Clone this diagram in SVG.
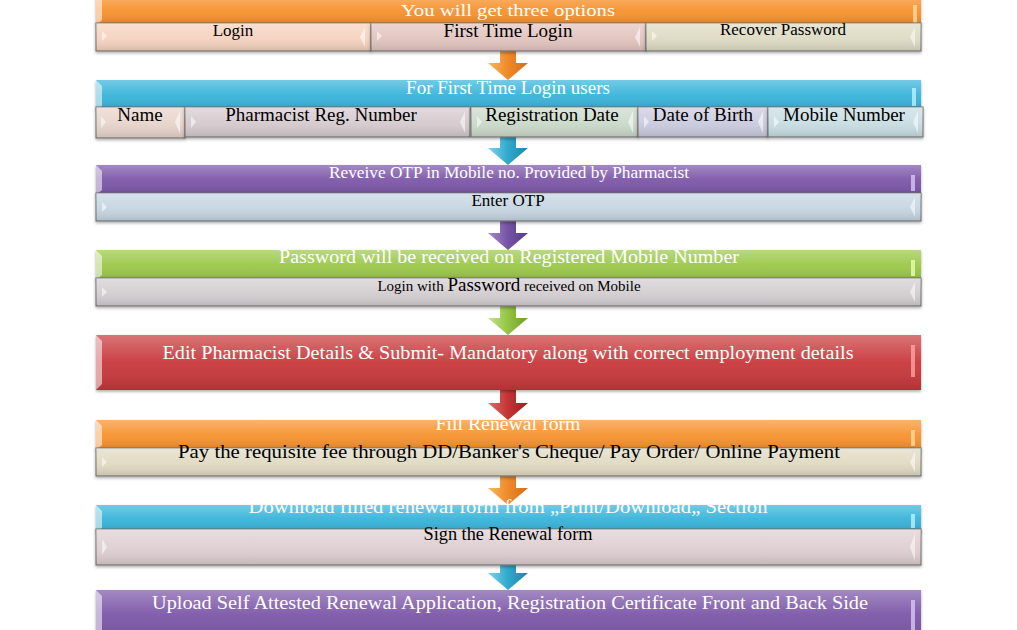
<svg xmlns="http://www.w3.org/2000/svg" width="1017" height="630" viewBox="0 0 1017 630">
<style>
.t{font-family:"Liberation Serif","Times New Roman",serif;text-anchor:middle}
.w{fill:#ffffff}
.k{fill:#000000}
.b{stroke:#6f6f6f;stroke-width:1}
.hl{fill:#ffffff;opacity:0.55}
</style>
<defs>
<linearGradient id="gloss" x1="0" y1="0" x2="0" y2="1">
<stop offset="0" stop-color="#ffffff" stop-opacity="0.3"/>
<stop offset="0.5" stop-color="#ffffff" stop-opacity="0.05"/>
<stop offset="1" stop-color="#000000" stop-opacity="0.12"/>
</linearGradient>
<linearGradient id="agOrange" x1="0" y1="0" x2="1" y2="0"><stop offset="0" stop-color="#f5b85e"/><stop offset="0.5" stop-color="#ef8a2a"/><stop offset="1" stop-color="#d36c17"/></linearGradient>
<linearGradient id="agCyan" x1="0" y1="0" x2="1" y2="0"><stop offset="0" stop-color="#7fd3ea"/><stop offset="0.5" stop-color="#30a9cc"/><stop offset="1" stop-color="#1d86a6"/></linearGradient>
<linearGradient id="agPurple" x1="0" y1="0" x2="1" y2="0"><stop offset="0" stop-color="#a98ad0"/><stop offset="0.5" stop-color="#7552a5"/><stop offset="1" stop-color="#573a86"/></linearGradient>
<linearGradient id="agGreen" x1="0" y1="0" x2="1" y2="0"><stop offset="0" stop-color="#c6e48a"/><stop offset="0.5" stop-color="#93c443"/><stop offset="1" stop-color="#6f9d2b"/></linearGradient>
<linearGradient id="agRed" x1="0" y1="0" x2="1" y2="0"><stop offset="0" stop-color="#e06a6a"/><stop offset="0.5" stop-color="#c43434"/><stop offset="1" stop-color="#9a2020"/></linearGradient>
<filter id="sh" x="-5%" y="-20%" width="110%" height="150%"><feDropShadow dx="0" dy="1.5" stdDeviation="1.5" flood-color="#000" flood-opacity="0.35"/></filter>
</defs>

<g id="connectors">
<path d="M500,49 L516,49 L516,63 L528,63 L508,80 L488,63 L500,63 Z" fill="url(#agOrange)"/>
<path d="M500,136 L516,136 L516,148 L528,148 L508,165 L488,148 L500,148 Z" fill="url(#agCyan)"/>
<path d="M500,219 L516,219 L516,233 L528,233 L508,250 L488,233 L500,233 Z" fill="url(#agPurple)"/>
<path d="M500,304 L516,304 L516,318 L528,318 L508,335 L488,318 L500,318 Z" fill="url(#agGreen)"/>
<path d="M500,388 L516,388 L516,403 L528,403 L508,420 L488,403 L500,403 Z" fill="url(#agRed)"/>
<path d="M500,474 L516,474 L516,488 L528,488 L508,505 L488,488 L500,488 Z" fill="url(#agOrange)"/>
<path d="M500,563 L516,563 L516,573 L528,573 L508,590 L488,573 L500,573 Z" fill="url(#agCyan)"/>
</g>

<g id="step1">
<rect x="96" y="-5" width="825" height="30" fill="#f7922f" filter="url(#sh)"/>
<rect x="96" y="-5" width="825" height="30" fill="url(#gloss)"/>
<polygon points="96,-5 102,-5 102,20 96,25" class="hl"/>
<rect x="913" y="5" width="4" height="18" fill="#ffd9a0" opacity="0.8"/>
<text class="t w" x="508" y="16" font-size="17" textLength="214" lengthAdjust="spacingAndGlyphs">You will get three options</text>
</g>
<g id="opt-login">
<rect x="96" y="23" width="275" height="28" fill="#f6d3c0" class="b" filter="url(#sh)"/>
<rect x="96" y="23" width="275" height="28" fill="url(#gloss)"/>
<polygon points="102,31 107,36 102,41" class="hl"/>
<polygon points="365,27 360,37 365,47" class="hl"/>
<text class="t k" x="233" y="36" font-size="17">Login</text>
</g>
<g id="opt-first">
<rect x="371" y="23" width="275" height="28" fill="#e3c5c0" class="b" filter="url(#sh)"/>
<rect x="371" y="23" width="275" height="28" fill="url(#gloss)"/>
<polygon points="377,31 382,36 377,41" class="hl"/>
<polygon points="640,27 635,37 640,47" class="hl"/>
<text class="t k" x="508" y="37" font-size="19">First Time Login</text>
</g>
<g id="opt-recover">
<rect x="646" y="23" width="275" height="28" fill="#dedcc4" class="b" filter="url(#sh)"/>
<rect x="646" y="23" width="275" height="28" fill="url(#gloss)"/>
<polygon points="652,31 657,36 652,41" class="hl"/>
<polygon points="915,27 910,37 915,47" class="hl"/>
<text class="t k" x="783" y="35" font-size="17">Recover Password</text>
</g>

<g id="step2">
<rect x="96" y="80" width="825" height="30" fill="#37b4da" filter="url(#sh)"/>
<rect x="96" y="80" width="825" height="30" fill="url(#gloss)"/>
<polygon points="96,80 102,86 102,106 96,110" class="hl"/>
<rect x="912" y="88" width="4" height="18" fill="#bdf0ff" opacity="0.8"/>
<text class="t w" x="508" y="94" font-size="19">For First Time Login users</text>
</g>
<g id="f-name">
<rect x="96" y="107" width="89" height="31" fill="#e8d5cc" class="b" filter="url(#sh)"/>
<rect x="96" y="107" width="89" height="31" fill="url(#gloss)"/>
<polygon points="101,116 106,122 101,128" class="hl"/>
<polygon points="180,111 175,122 180,134" class="hl"/>
<text class="t k" x="140" y="121" font-size="19">Name</text>
</g>
<g id="f-reg">
<rect x="185" y="107" width="285" height="30" fill="#d6cbcf" class="b" filter="url(#sh)"/>
<rect x="185" y="107" width="285" height="30" fill="url(#gloss)"/>
<polygon points="191,116 196,122 191,128" class="hl"/>
<polygon points="465,111 460,122 465,133" class="hl"/>
<text class="t k" x="321" y="121" font-size="19">Pharmacist Reg. Number</text>
</g>
<g id="f-regdate">
<rect x="471" y="107" width="167" height="30" fill="#cbdaca" class="b" filter="url(#sh)"/>
<rect x="471" y="107" width="167" height="30" fill="url(#gloss)"/>
<polygon points="477,116 482,122 477,128" class="hl"/>
<polygon points="633,111 628,122 633,133" class="hl"/>
<text class="t k" x="552" y="121" font-size="19">Registration Date</text>
</g>
<g id="f-dob">
<rect x="638" y="107" width="130" height="30" fill="#cbcbe0" class="b" filter="url(#sh)"/>
<rect x="638" y="107" width="130" height="30" fill="url(#gloss)"/>
<polygon points="644,116 649,122 644,128" class="hl"/>
<polygon points="763,111 758,122 763,133" class="hl"/>
<text class="t k" x="703" y="121" font-size="19">Date of Birth</text>
</g>
<g id="f-mobile">
<rect x="768" y="107" width="155" height="30" fill="#c8dee3" class="b" filter="url(#sh)"/>
<rect x="768" y="107" width="155" height="30" fill="url(#gloss)"/>
<polygon points="774,116 779,122 774,128" class="hl"/>
<polygon points="918,111 913,122 918,133" class="hl"/>
<text class="t k" x="844" y="121" font-size="19">Mobile Number</text>
</g>

<g id="step3">
<rect x="96" y="165" width="825" height="30" fill="#7c57a8" filter="url(#sh)"/>
<rect x="96" y="165" width="825" height="30" fill="url(#gloss)"/>
<polygon points="96,165 102,171 102,190 96,195" class="hl"/>
<rect x="911" y="175" width="4" height="16" fill="#d9c6f2" opacity="0.8"/>
<text class="t w" x="509" y="178" font-size="16" textLength="360" lengthAdjust="spacingAndGlyphs">Reveive OTP in Mobile  no. Provided by Pharmacist</text>
</g>
<g id="step3-sub">
<rect x="96" y="193" width="825" height="28" fill="#c6d6e2" class="b" filter="url(#sh)"/>
<rect x="96" y="193" width="825" height="28" fill="url(#gloss)"/>
<polygon points="102,202 107,207 102,212" class="hl"/>
<polygon points="915,197 910,207 915,217" class="hl"/>
<text class="t k" x="508" y="206" font-size="17">Enter OTP</text>
</g>

<g id="step4">
<rect x="96" y="250" width="825" height="30" fill="#9bc84a" filter="url(#sh)"/>
<rect x="96" y="250" width="825" height="30" fill="url(#gloss)"/>
<polygon points="96,250 102,256 102,275 96,280" class="hl"/>
<rect x="911" y="260" width="4" height="16" fill="#eaffb0" opacity="0.8"/>
<text class="t w" x="509" y="263" font-size="19" textLength="460" lengthAdjust="spacingAndGlyphs">Password will be received on Registered Mobile Number</text>
</g>
<g id="step4-sub">
<rect x="96" y="278" width="825" height="28" fill="#d4ced1" class="b" filter="url(#sh)"/>
<rect x="96" y="278" width="825" height="28" fill="url(#gloss)"/>
<polygon points="102,287 107,292 102,297" class="hl"/>
<polygon points="915,282 910,292 915,302" class="hl"/>
<text class="t k" x="509" y="291" font-size="15">Login with <tspan font-size="19">Password</tspan> received on Mobile</text>
</g>

<g id="step5">
<rect x="96" y="335" width="825" height="55" fill="#c8393a" filter="url(#sh)"/>
<rect x="96" y="335" width="825" height="55" fill="url(#gloss)"/>
<polygon points="96,335 102,341 102,384 96,390" class="hl" opacity="0.35"/>
<rect x="911" y="345" width="4" height="32" fill="#ffb0b0" opacity="0.7"/>
<text class="t w" x="508" y="359" font-size="19" textLength="691" lengthAdjust="spacingAndGlyphs">Edit Pharmacist Details &amp; Submit- Mandatory along with correct employment details</text>
</g>

<g id="step6">
<rect x="96" y="420" width="825" height="30" fill="#f7922f" filter="url(#sh)"/>
<rect x="96" y="420" width="825" height="30" fill="url(#gloss)"/>
<polygon points="96,420 102,426 102,445 96,450" class="hl"/>
<rect x="911" y="430" width="4" height="16" fill="#ffd9a0" opacity="0.8"/>
<text class="t w" x="508" y="430" font-size="19" textLength="145" lengthAdjust="spacingAndGlyphs">Fill Renewal form</text>
</g>
<g id="step6-sub">
<rect x="96" y="448" width="825" height="28" fill="#e1dbc3" class="b" filter="url(#sh)"/>
<rect x="96" y="448" width="825" height="28" fill="url(#gloss)"/>
<polygon points="102,457 107,462 102,467" class="hl"/>
<polygon points="915,452 910,462 915,472" class="hl"/>
<text class="t k" x="509" y="458" font-size="19" textLength="662" lengthAdjust="spacingAndGlyphs">Pay the requisite fee through DD/Banker's Cheque/ Pay Order/ Online Payment</text>
</g>

<g id="step7">
<rect x="96" y="505" width="825" height="27" fill="#37b4da" filter="url(#sh)"/>
<rect x="96" y="505" width="825" height="27" fill="url(#gloss)"/>
<polygon points="96,505 102,511 102,528 96,532" class="hl"/>
<rect x="911" y="514" width="4" height="14" fill="#bdf0ff" opacity="0.8"/>
<text class="t w" x="508" y="513" font-size="19" textLength="519" lengthAdjust="spacingAndGlyphs">Download filled renewal form from „Print/Download„ Section</text>
</g>
<g id="step7-sub">
<rect x="96" y="529" width="825" height="36" fill="#dfcfd2" class="b" filter="url(#sh)"/>
<rect x="96" y="529" width="825" height="36" fill="url(#gloss)"/>
<polygon points="102,539 107,547 102,555" class="hl"/>
<polygon points="915,533 910,547 915,561" class="hl"/>
<text class="t k" x="508" y="540" font-size="18" textLength="169" lengthAdjust="spacingAndGlyphs">Sign the Renewal form</text>
</g>

<g id="step8">
<rect x="96" y="590" width="825" height="50" fill="#7c57a8" filter="url(#sh)"/>
<rect x="96" y="590" width="825" height="50" fill="url(#gloss)"/>
<polygon points="96,590 102,596 102,630 96,630" class="hl" opacity="0.4"/>
<rect x="911" y="600" width="4" height="30" fill="#d9c6f2" opacity="0.8"/>
<text class="t w" x="510" y="609" font-size="19" textLength="716" lengthAdjust="spacingAndGlyphs">Upload Self Attested Renewal Application, Registration Certificate Front and Back Side</text>
</g>
</svg>
